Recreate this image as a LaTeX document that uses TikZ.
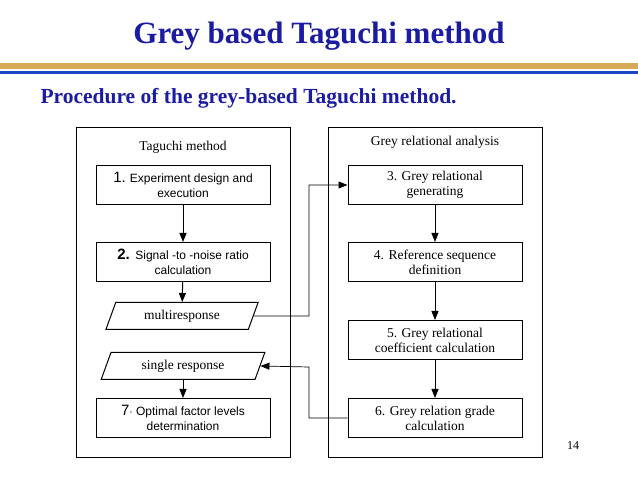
\documentclass[tikz,border=0pt]{standalone}
\usepackage{fontspec}
\setmainfont{Liberation Serif}
\newfontfamily\arialf{Liberation Sans}
\usetikzlibrary{shapes.geometric,arrows.meta}
\definecolor{titleblue}{RGB}{28,28,160}
\definecolor{gold}{RGB}{214,170,90}
\definecolor{barblue}{RGB}{30,70,200}
\begin{document}
\begin{tikzpicture}[x=1pt,y=-1pt,
  box/.style={draw,line width=1pt,minimum width=174pt,minimum height=39pt,inner sep=1pt,align=center,font=\fontsize{13.5}{15}\selectfont},
  sbox/.style={box,font=\arialf\fontsize{12}{15}\selectfont},
  io/.style={draw,line width=1pt,trapezium,trapezium left angle=70,trapezium right angle=110,minimum width=150pt,minimum height=27pt,inner sep=2pt,font=\fontsize{13.5}{15}\selectfont},
  panel/.style={draw,line width=0.7pt},
  tip/.style={-{Triangle[length=9pt,width=7pt]}},
  arr/.style={tip,line width=1pt},
  lnk/.style={tip,line width=0.7pt}]
\useasboundingbox (0,0) rectangle (638,478);
% header
\node[font=\bfseries\fontsize{31}{34}\selectfont,text=titleblue] (title) at (319,36) {Grey based Taguchi method};
\fill[gold] (0,63) rectangle (638,69);
\fill[barblue] (0,71) rectangle (638,74);
\node[anchor=west,font=\bfseries\fontsize{21.5}{24}\selectfont,text=titleblue] (sub) at (37,98) {Procedure of the grey-based Taguchi method.};
% panels
\draw[panel] (76,127) rectangle (290,457);
\draw[panel] (328,127) rectangle (542,457);
\node[font=\fontsize{13.5}{15}\selectfont] (lt) at (183,147) {Taguchi method};
\node[font=\fontsize{13.5}{15}\selectfont] (rt) at (435,142) {Grey relational analysis};
% left column
\node[sbox] (b1) at (183,185) {\fontsize{15}{15}\selectfont 1.\ \fontsize{12}{15}\selectfont Experiment design and\\execution};
\node[sbox] (b2) at (183,262) {\fontsize{15}{15}\selectfont\textbf{2.} \fontsize{12}{15}\selectfont Signal -to -noise ratio\\calculation};
\node[io] (mr) at (182,316) {multiresponse};
\node[io] (sr) at (183,366) {single response};
\node[sbox] (b7) at (183,418) {\fontsize{15}{15}\selectfont 7\fontsize{12}{15}\selectfont $\cdot$ Optimal factor levels\\determination};
% right column
\node[box] (b3) at (435,185) {3. Grey relational\\generating};
\node[box] (b4) at (435,262) {4. Reference sequence\\definition};
\node[box] (b5) at (435,340) {5. Grey relational\\coefficient calculation};
\node[box] (b6) at (435,418) {6. Grey relation grade\\calculation};
% arrows
\draw[arr] (b1) -- (b2);
\draw[arr] (b2) -- (mr);
\draw[arr] (sr) -- (b7);
\draw[arr] (b3) -- (b4);
\draw[arr] (b4) -- (b5);
\draw[arr] (b5) -- (b6);
\draw[lnk] (mr.east) -- (309,316) -- (309,185) -- (b3.west);
\draw[lnk] (b6.west) -- (309,418) -- (309,367) -- (sr.east);
\node[font=\fontsize{12}{14}\selectfont] (pg) at (573,446) {14};
\end{tikzpicture}
\end{document}
